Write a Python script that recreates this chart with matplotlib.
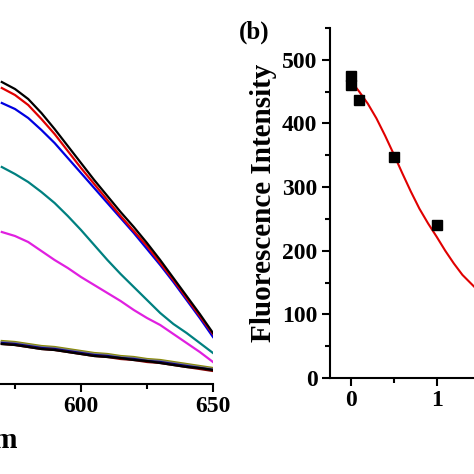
import numpy as np
import matplotlib.pyplot as plt
from matplotlib.ticker import MultipleLocator

plt.rcParams['font.family'] = ['Liberation Serif', 'DejaVu Serif']
plt.rcParams['font.weight'] = 'bold'

# panel (a): spectra (visible part only)
wl = [570, 575, 580, 585, 590, 595, 600, 605, 610, 615, 620, 625, 630, 635, 640, 645, 650]
spec_black = [302, 295, 285, 271, 255, 238, 221, 204, 188, 172, 157, 141, 124, 106, 88, 70, 51]
spec_red = [296, 289, 279, 265, 250, 233, 216, 200, 184, 168, 153, 138, 121, 104, 86, 68, 50]
spec_blue = [281, 275, 266, 254, 241, 226, 211, 196, 181, 166, 151, 135, 119, 102, 84, 66, 47]
spec_teal = [217, 210, 202, 192, 181, 168, 154, 139, 124, 110, 97, 84, 71, 60, 51, 41, 31]
spec_magenta = [152, 148, 142, 133, 124, 116, 107, 99, 91, 83, 74, 66, 59, 50, 41, 32, 22]
low_olive = [43, 42, 40, 38, 37, 35, 33, 31, 30, 28, 27, 25, 24, 22, 20, 18, 16]
low_gray = [42, 41, 39, 37, 36, 34, 32, 30, 29, 27, 26, 24, 23, 21, 19, 17, 15]
low_navy = [41, 40, 38, 36, 35, 33, 31, 29, 28, 26, 25, 23, 22, 20, 18, 16, 14]
low_darkred = [40, 39, 37, 35, 34, 32, 30, 28, 27, 25, 24, 22, 21, 19, 17, 15, 13]
low_black = [40, 39, 37, 35, 34, 32, 30, 28, 27, 26, 24, 23, 21, 19, 17, 16, 14]

# panel (b): intensity vs concentration
conc = [0, 0, 0.1, 0.5, 1.0]
inten = [475, 460, 437, 347, 241]
fit_x = [0.03, 0.1, 0.2, 0.3, 0.4, 0.5, 0.6, 0.7, 0.8, 0.9, 1.0, 1.1, 1.2, 1.3, 1.44]
fit_y = [462, 450, 431, 408, 381, 352, 322, 293, 266, 243, 222, 200, 180, 162, 143]

fig = plt.figure(figsize=(4.74, 4.74), dpi=100)
W = H = 474.0

def ax_px(l, b, r, t):
    return [l / W, 1 - b / H, (r - l) / W, (b - t) / H]

# left axes: 650 at px 213, 50 nm = 132 px
axa = fig.add_axes(ax_px(213 - 150 * 2.64, 384, 213, 0))
for y, c in [(low_olive, '#8a8a00'), (low_gray, '#808080'), (low_navy, '#000080'),
             (low_darkred, '#800000'), (low_black, 'black'),
             (spec_magenta, '#e020e0'), (spec_teal, '#008080'), (spec_blue, '#0000e0'),
             (spec_red, '#e00000'), (spec_black, 'black')]:
    axa.plot(wl, y, color=c, lw=1.6)
axa.set_xlim(500, 650)
axa.set_ylim(0, 384)
axa.set_xticks([600, 650])
axa.set_xticks([575, 625], minor=True)
axa.set_yticks([])
for s in ['top', 'right', 'left']:
    axa.spines[s].set_visible(False)
axa.spines['bottom'].set_linewidth(1.5)
axa.tick_params(axis='x', which='major', length=6, width=1.5, labelsize=17, pad=3)
axa.tick_params(axis='x', which='minor', length=3.5, width=1.5)
fig.text(18 / W, 1 - 440 / H, 'nm', ha='right', va='center', fontsize=21, fontweight='bold')

# right axes: 0 at px 351, 1 at px 437
axb = fig.add_axes(ax_px(330, 378, 330 + 86 * 1.68, 28))
axb.plot(fit_x, fit_y, color='#e00000', lw=1.5)
axb.plot(conc, inten, 's', color='black', ms=7)
axb.set_xlim(-0.24, 1.44)
axb.set_ylim(0, 550)
axb.set_xticks([0, 1])
axb.set_xticks([0.5], minor=True)
axb.yaxis.set_major_locator(MultipleLocator(100))
axb.yaxis.set_minor_locator(MultipleLocator(50))
for s in ['top', 'right']:
    axb.spines[s].set_visible(False)
for s in ['bottom', 'left']:
    axb.spines[s].set_linewidth(1.5)
axb.tick_params(which='major', length=6, width=1.5, labelsize=17, pad=3)
axb.tick_params(which='minor', length=3.5, width=1.5)
axb.set_ylabel('Fluorescence Intensity', fontsize=21, fontweight='bold', labelpad=4)
fig.text(254 / W, 1 - 32 / H, '(b)', ha='center', va='center', fontsize=18, fontweight='bold')

fig.savefig('out.png', dpi=100)
